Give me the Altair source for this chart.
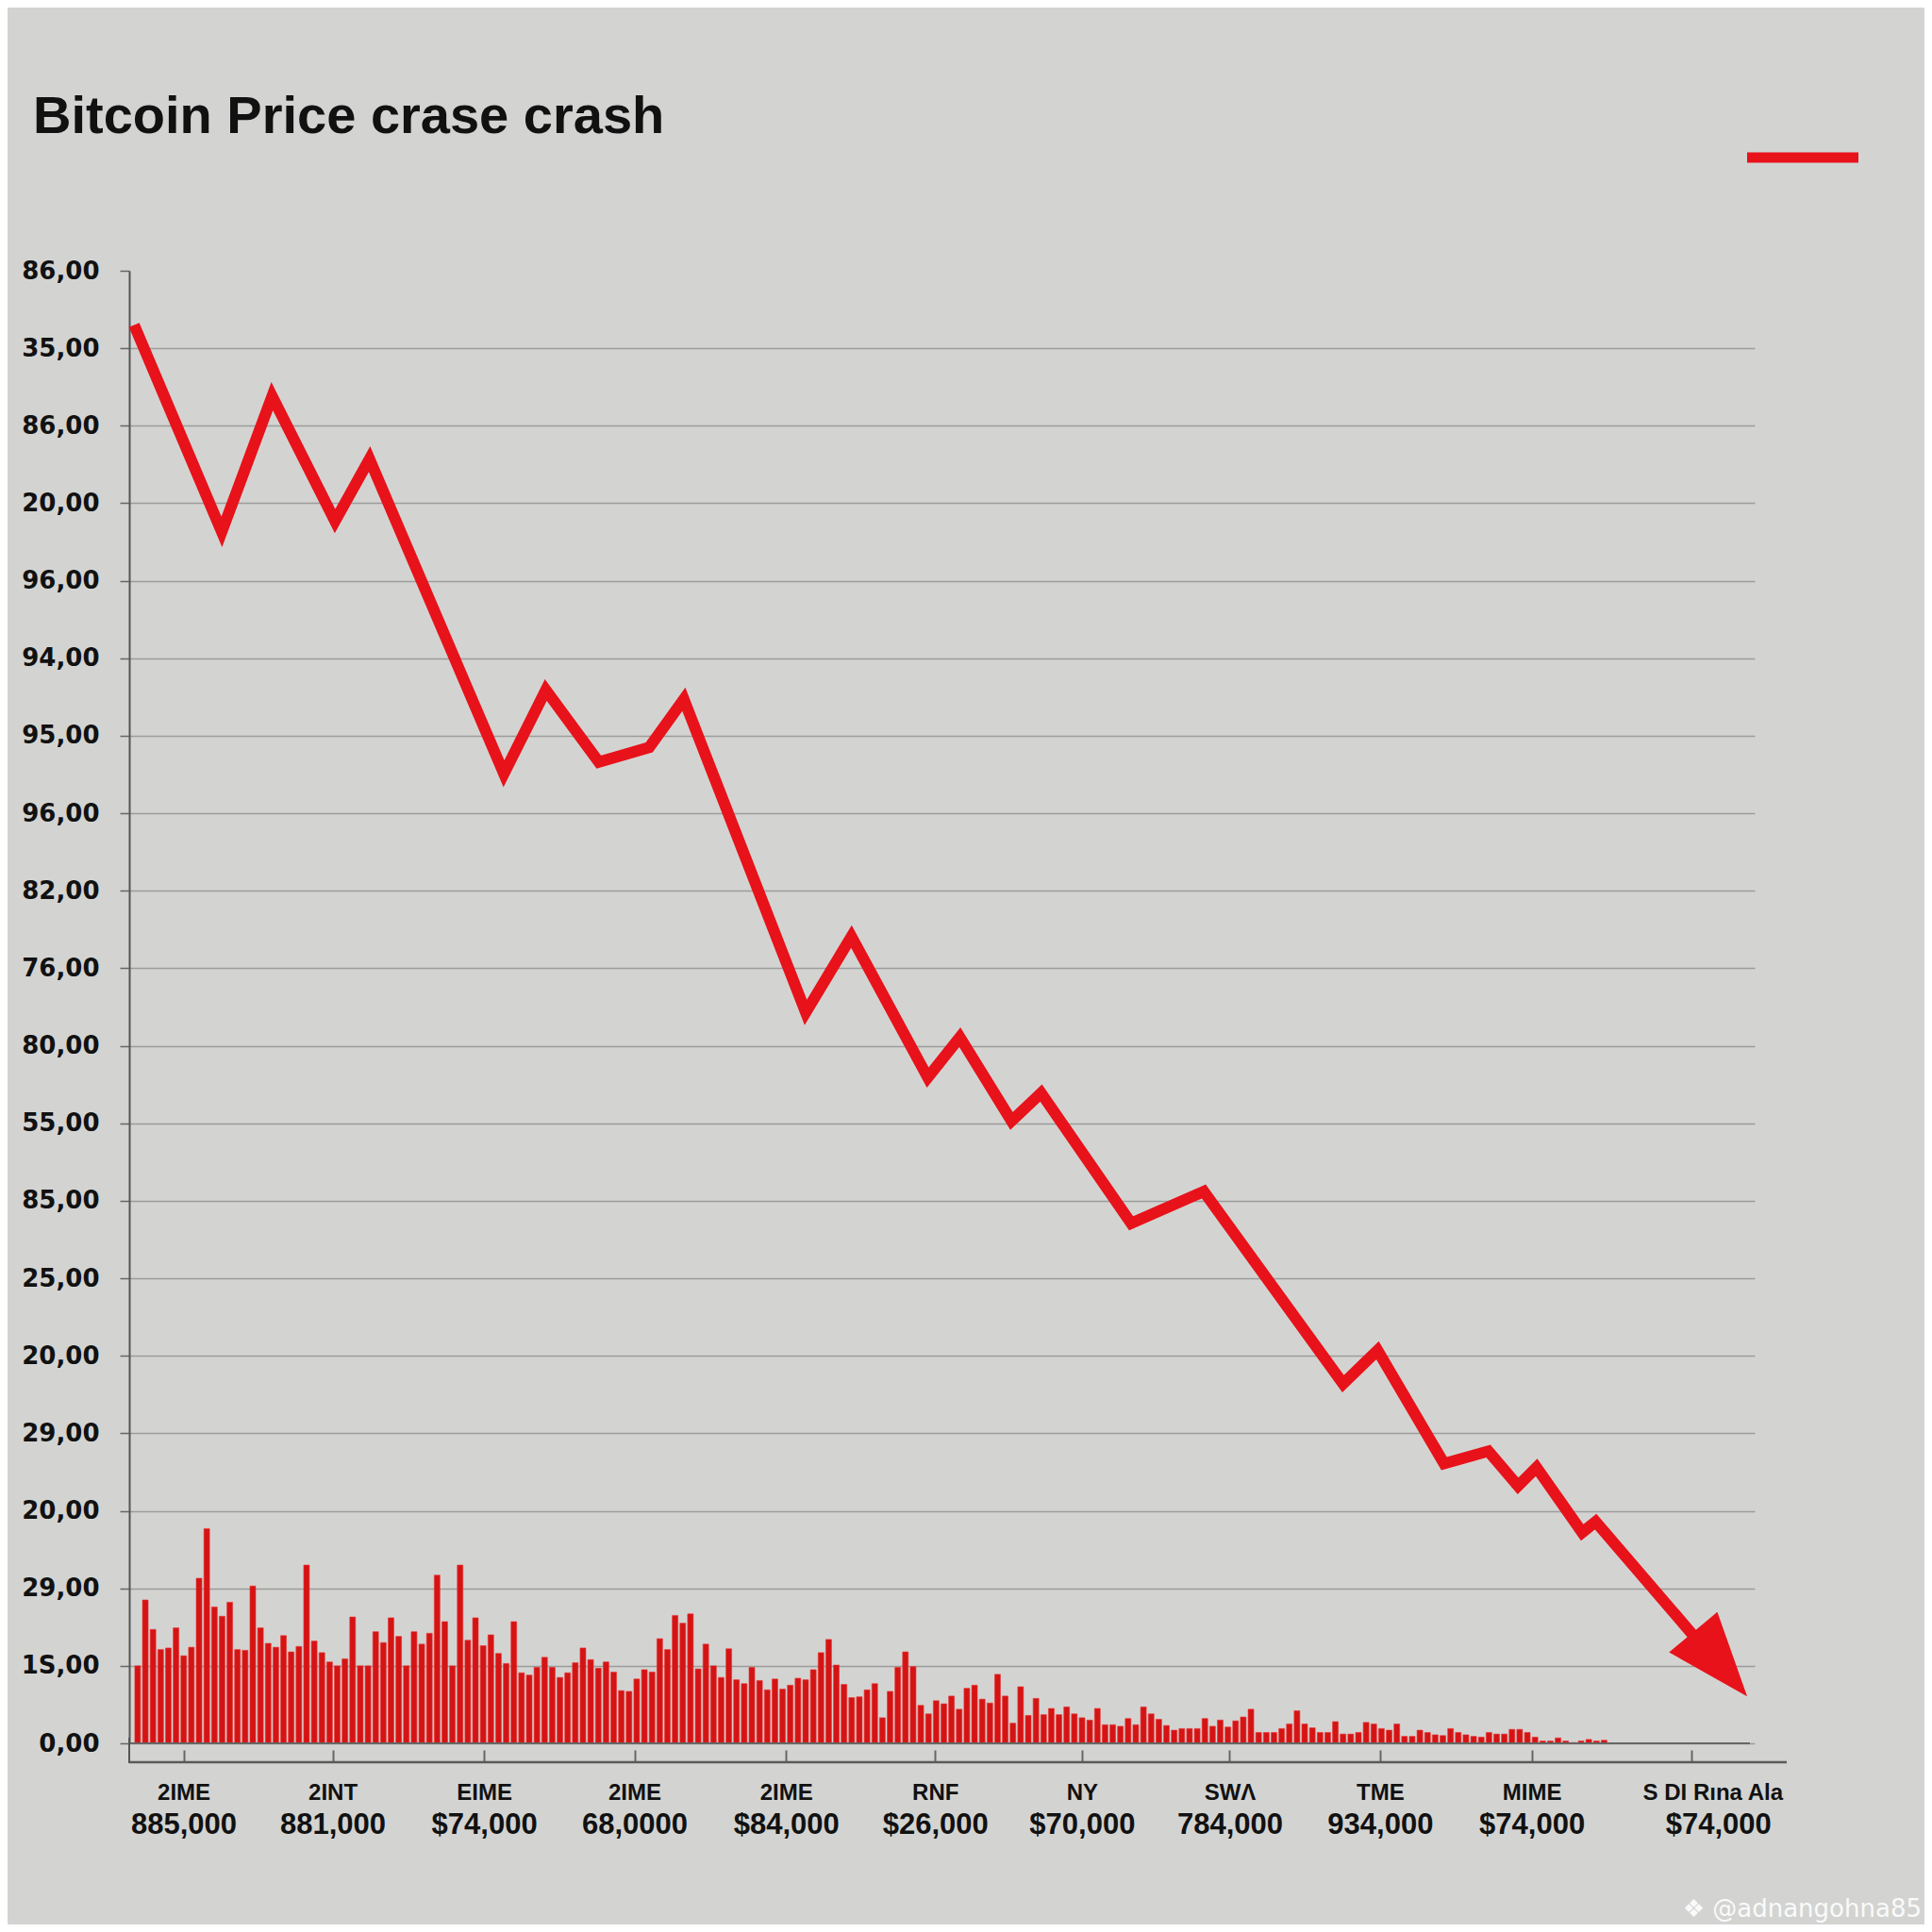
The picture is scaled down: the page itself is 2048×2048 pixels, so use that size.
import altair as alt
import pandas as pd

TITLE = "Bitcoin Price crase crash"
WATERMARK = "\u2756 @adnangohna85"

# y tick labels, from value 0 (bottom) to 19 (top)
y_tick_labels = ["0,00", "1S,00", "29,00", "20,00", "29,00", "20,00", "25,00",
                 "85,00", "55,00", "80,00", "76,00", "82,00", "96,00", "95,00",
                 "94,00", "96,00", "20,00", "86,00", "35,00", "86,00"]

# price line (time 0-100, price in gridline units)
line_t = [0.3, 5.69, 8.79, 12.66, 14.78, 23.05, 25.63, 28.89, 31.99, 34.12,
          41.62, 44.43, 49.13, 51.10, 54.28, 56.10, 61.64, 66.11, 74.68, 76.80,
          80.89, 83.62, 85.44, 86.58, 89.39, 90.22, 96.4]
line_price = [18.3, 15.63, 17.38, 15.77, 16.57, 12.51, 13.59, 12.66, 12.85, 13.47,
              9.43, 10.41, 8.59, 9.11, 8.03, 8.39, 6.71, 7.12, 4.64, 5.07,
              3.61, 3.77, 3.32, 3.56, 2.72, 2.86, 1.35]
arrow_t = [97.88]
arrow_price = [1.02]

# volume bars
volume = [1.00,
          1.85, 1.47, 1.21, 1.23, 1.49, 1.13, 1.24, 2.13, 2.77, 1.76, 1.64, 1.82, 1.21, 1.20,
          2.03, 1.49, 1.29, 1.24, 1.39, 1.18, 1.25, 2.30, 1.32, 1.17, 1.05, 1.00, 1.09, 1.63,
          1.00, 1.00, 1.44, 1.30, 1.62, 1.38, 1.00, 1.44, 1.28, 1.42, 2.17, 1.57, 1.00, 2.30,
          1.33, 1.62, 1.26, 1.40, 1.16, 1.03, 1.57, 0.91, 0.88, 0.98, 1.11, 0.98, 0.85, 0.91,
          1.04, 1.23, 1.08, 0.97, 1.05, 0.92, 0.68, 0.67, 0.83, 0.95, 0.92, 1.35, 1.21, 1.65,
          1.55, 1.67, 0.96, 1.28, 1.00, 0.85, 1.22, 0.82, 0.77, 0.98, 0.81, 0.69, 0.83, 0.70,
          0.75, 0.84, 0.82,
          0.95, 1.17, 1.34, 1.01, 0.76, 0.59, 0.60, 0.69, 0.77, 0.33, 0.67, 0.98, 1.18, 0.99,
          0.49, 0.38, 0.55, 0.51, 0.61, 0.44, 0.71, 0.75, 0.57, 0.52, 0.89, 0.61, 0.26, 0.73,
          0.36, 0.58, 0.37, 0.45, 0.37, 0.47, 0.38, 0.33, 0.30, 0.45, 0.24, 0.24, 0.22, 0.32,
          0.24, 0.47, 0.38, 0.31, 0.23, 0.17, 0.19, 0.19, 0.19, 0.32, 0.22, 0.30, 0.21, 0.29,
          0.34, 0.44, 0.14, 0.14, 0.14, 0.19, 0.25, 0.42, 0.25, 0.20, 0.14, 0.14, 0.28, 0.12,
          0.12, 0.14, 0.27, 0.25, 0.19, 0.17, 0.25, 0.09, 0.09, 0.17, 0.14, 0.11, 0.10, 0.19,
          0.14, 0.11, 0.09, 0.08, 0.14, 0.12, 0.12, 0.18, 0.18, 0.14, 0.08, 0.03, 0.03, 0.07,
          0.03, 0.01, 0.03, 0.05, 0.03, 0.04]

# bottom axis
x_tick_pos = [3.34, 12.51, 21.83, 31.08, 40.41, 49.58, 58.61, 67.70, 76.95, 86.28, 96.13]
x_labels_top = ["2IME", "2INT", "EIME", "2IME", "2IME", "RNF", "NY", "SW\u039b",
                "TME", "MIME", "S DI R\u0131na Ala"]
x_labels_bottom = ["885,000", "881,000", "$74,000", "68,0000", "$84,000", "$26,000",
                   "$70,000", "784,000", "934,000", "$74,000", "$74,000"]

RED = "#e8121a"
BAR_RED = "#d41414"
BG = "#d3d4d2"

line_df = pd.DataFrame({"t": line_t, "price": line_price})
arrow_df = pd.DataFrame({"t": arrow_t, "price": arrow_price})
bar_df = pd.DataFrame({"i": list(range(len(volume))), "v": volume})


def js_list(vals):
    return "[" + ",".join(repr(v) if not isinstance(v, str) else "'" + v + "'" for v in vals) + "]"


y_label_expr = js_list(y_tick_labels) + "[datum.value]"
top_label_expr = js_list(x_labels_top) + "[indexof(" + js_list(x_tick_pos) + ", datum.value)]"
bot_label_expr = js_list(x_labels_bottom) + "[indexof(" + js_list(x_tick_pos) + ", datum.value)]"

x_scale = alt.Scale(domain=[0, 100], nice=False, zero=False)
y_scale = alt.Scale(domain=[0, 19], nice=False, zero=True)

y_axis = alt.Axis(
    values=list(range(20)), labelExpr=y_label_expr, title=None,
    labelFont="DejaVu Sans", labelFontWeight="bold", labelFontSize=26,
    labelColor="#111111", labelPadding=22, tickSize=10, tickColor="#666666",
    tickWidth=1.5, domainColor="#555555", domainWidth=2,
    gridColor={"condition": {"test": "datum.value === 19", "value": "rgba(0,0,0,0)"},
               "value": "#9c9c9c"},
    gridWidth=1.4,
)

x_axis_top = alt.Axis(
    values=x_tick_pos, labelExpr=top_label_expr, title=None, orient="bottom",
    offset=7, domain=False, grid=False, tickSize=13, tickColor="#666666", tickWidth=2,
    labelFont="Liberation Sans", labelFontWeight="bold", labelFontSize=24,
    labelColor="#111111", labelBaseline="alphabetic", labelPadding=39,
    labelOffset={"condition": {"test": "datum.value > 90", "value": 22}, "value": 0},
)
x_axis_bot = alt.Axis(
    values=x_tick_pos, labelExpr=bot_label_expr, title=None, orient="bottom",
    offset=7, domain=False, grid=False, tickSize=13, tickOpacity=0,
    labelFont="Liberation Sans", labelFontWeight="bold", labelFontSize=31,
    labelColor="#111111", labelBaseline="alphabetic", labelPadding=75,
    labelOffset={"condition": {"test": "datum.value > 90", "value": 28}, "value": 0},
)

bars = alt.Chart(bar_df).mark_bar(width=6, color=BAR_RED, stroke="#f03030", strokeWidth=0.6).encode(
    x=alt.X("i:Q", scale=alt.Scale(domain=[-0.48, 209.99], nice=False, zero=False), axis=None),
    y=alt.Y("v:Q", scale=y_scale, axis=y_axis),
)

zero_rule = alt.Chart(bar_df).mark_rule(color="#666666", strokeWidth=2).encode(
    y=alt.Y(datum=0, scale=y_scale, axis=y_axis),
    x=alt.value(0), x2=alt.value(1718),
)

line = alt.Chart(line_df).mark_line(
    color=RED, strokeWidth=12, strokeJoin="miter", strokeMiterLimit=20, strokeCap="butt"
).encode(
    x=alt.X("t:Q", scale=x_scale, axis=x_axis_top),
    y=alt.Y("price:Q", scale=y_scale, axis=y_axis),
    order="t:Q",
)

arrow = alt.Chart(arrow_df).mark_point(
    shape="M0,-1L0.75,1L-0.75,1Z", filled=True, color=RED, opacity=1,
    size=7921, angle=140, strokeWidth=0,
).encode(
    x=alt.X("t:Q", scale=x_scale, axis=x_axis_bot),
    y=alt.Y("price:Q", scale=y_scale, axis=y_axis),
)

bottom_domain = alt.Chart(arrow_df).mark_rule(color="#5a5a5a", strokeWidth=2.5).encode(
    x=alt.value(0), x2=alt.value(1757), y=alt.value(1581),
)
y_ext = alt.Chart(arrow_df).mark_rule(color="#555555", strokeWidth=2).encode(
    x=alt.value(0), y=alt.value(1555), y2=alt.value(1582),
)

title = alt.Chart(arrow_df).mark_text(
    text=TITLE, font="Liberation Sans", fontWeight="bold", fontSize=56,
    color="#111111", align="left", baseline="alphabetic",
).encode(x=alt.value(-102), y=alt.value(-146))

legend_rule = alt.Chart(arrow_df).mark_rule(color=RED, strokeWidth=11).encode(
    x=alt.value(1715), x2=alt.value(1833), y=alt.value(-120),
)

watermark = alt.Chart(arrow_df).mark_text(
    text=WATERMARK, font="DejaVu Sans", fontSize=26, color="#ffffff", opacity=0.9,
    align="right", baseline="alphabetic",
).encode(x=alt.value(1900), y=alt.value(1745))

chart = alt.layer(
    bars, zero_rule, line, arrow, bottom_domain, y_ext, title, legend_rule, watermark
).resolve_scale(x="independent").resolve_axis(x="independent").properties(
    width=1723, height=1561,
    autosize=alt.AutoSizeParams(type="none"),
    padding={"left": 129, "top": 279, "right": 180, "bottom": 192},
    background=BG,
).configure_view(stroke=None)

chart.save("out.html", embed_options={"renderer": "svg", "actions": False})
